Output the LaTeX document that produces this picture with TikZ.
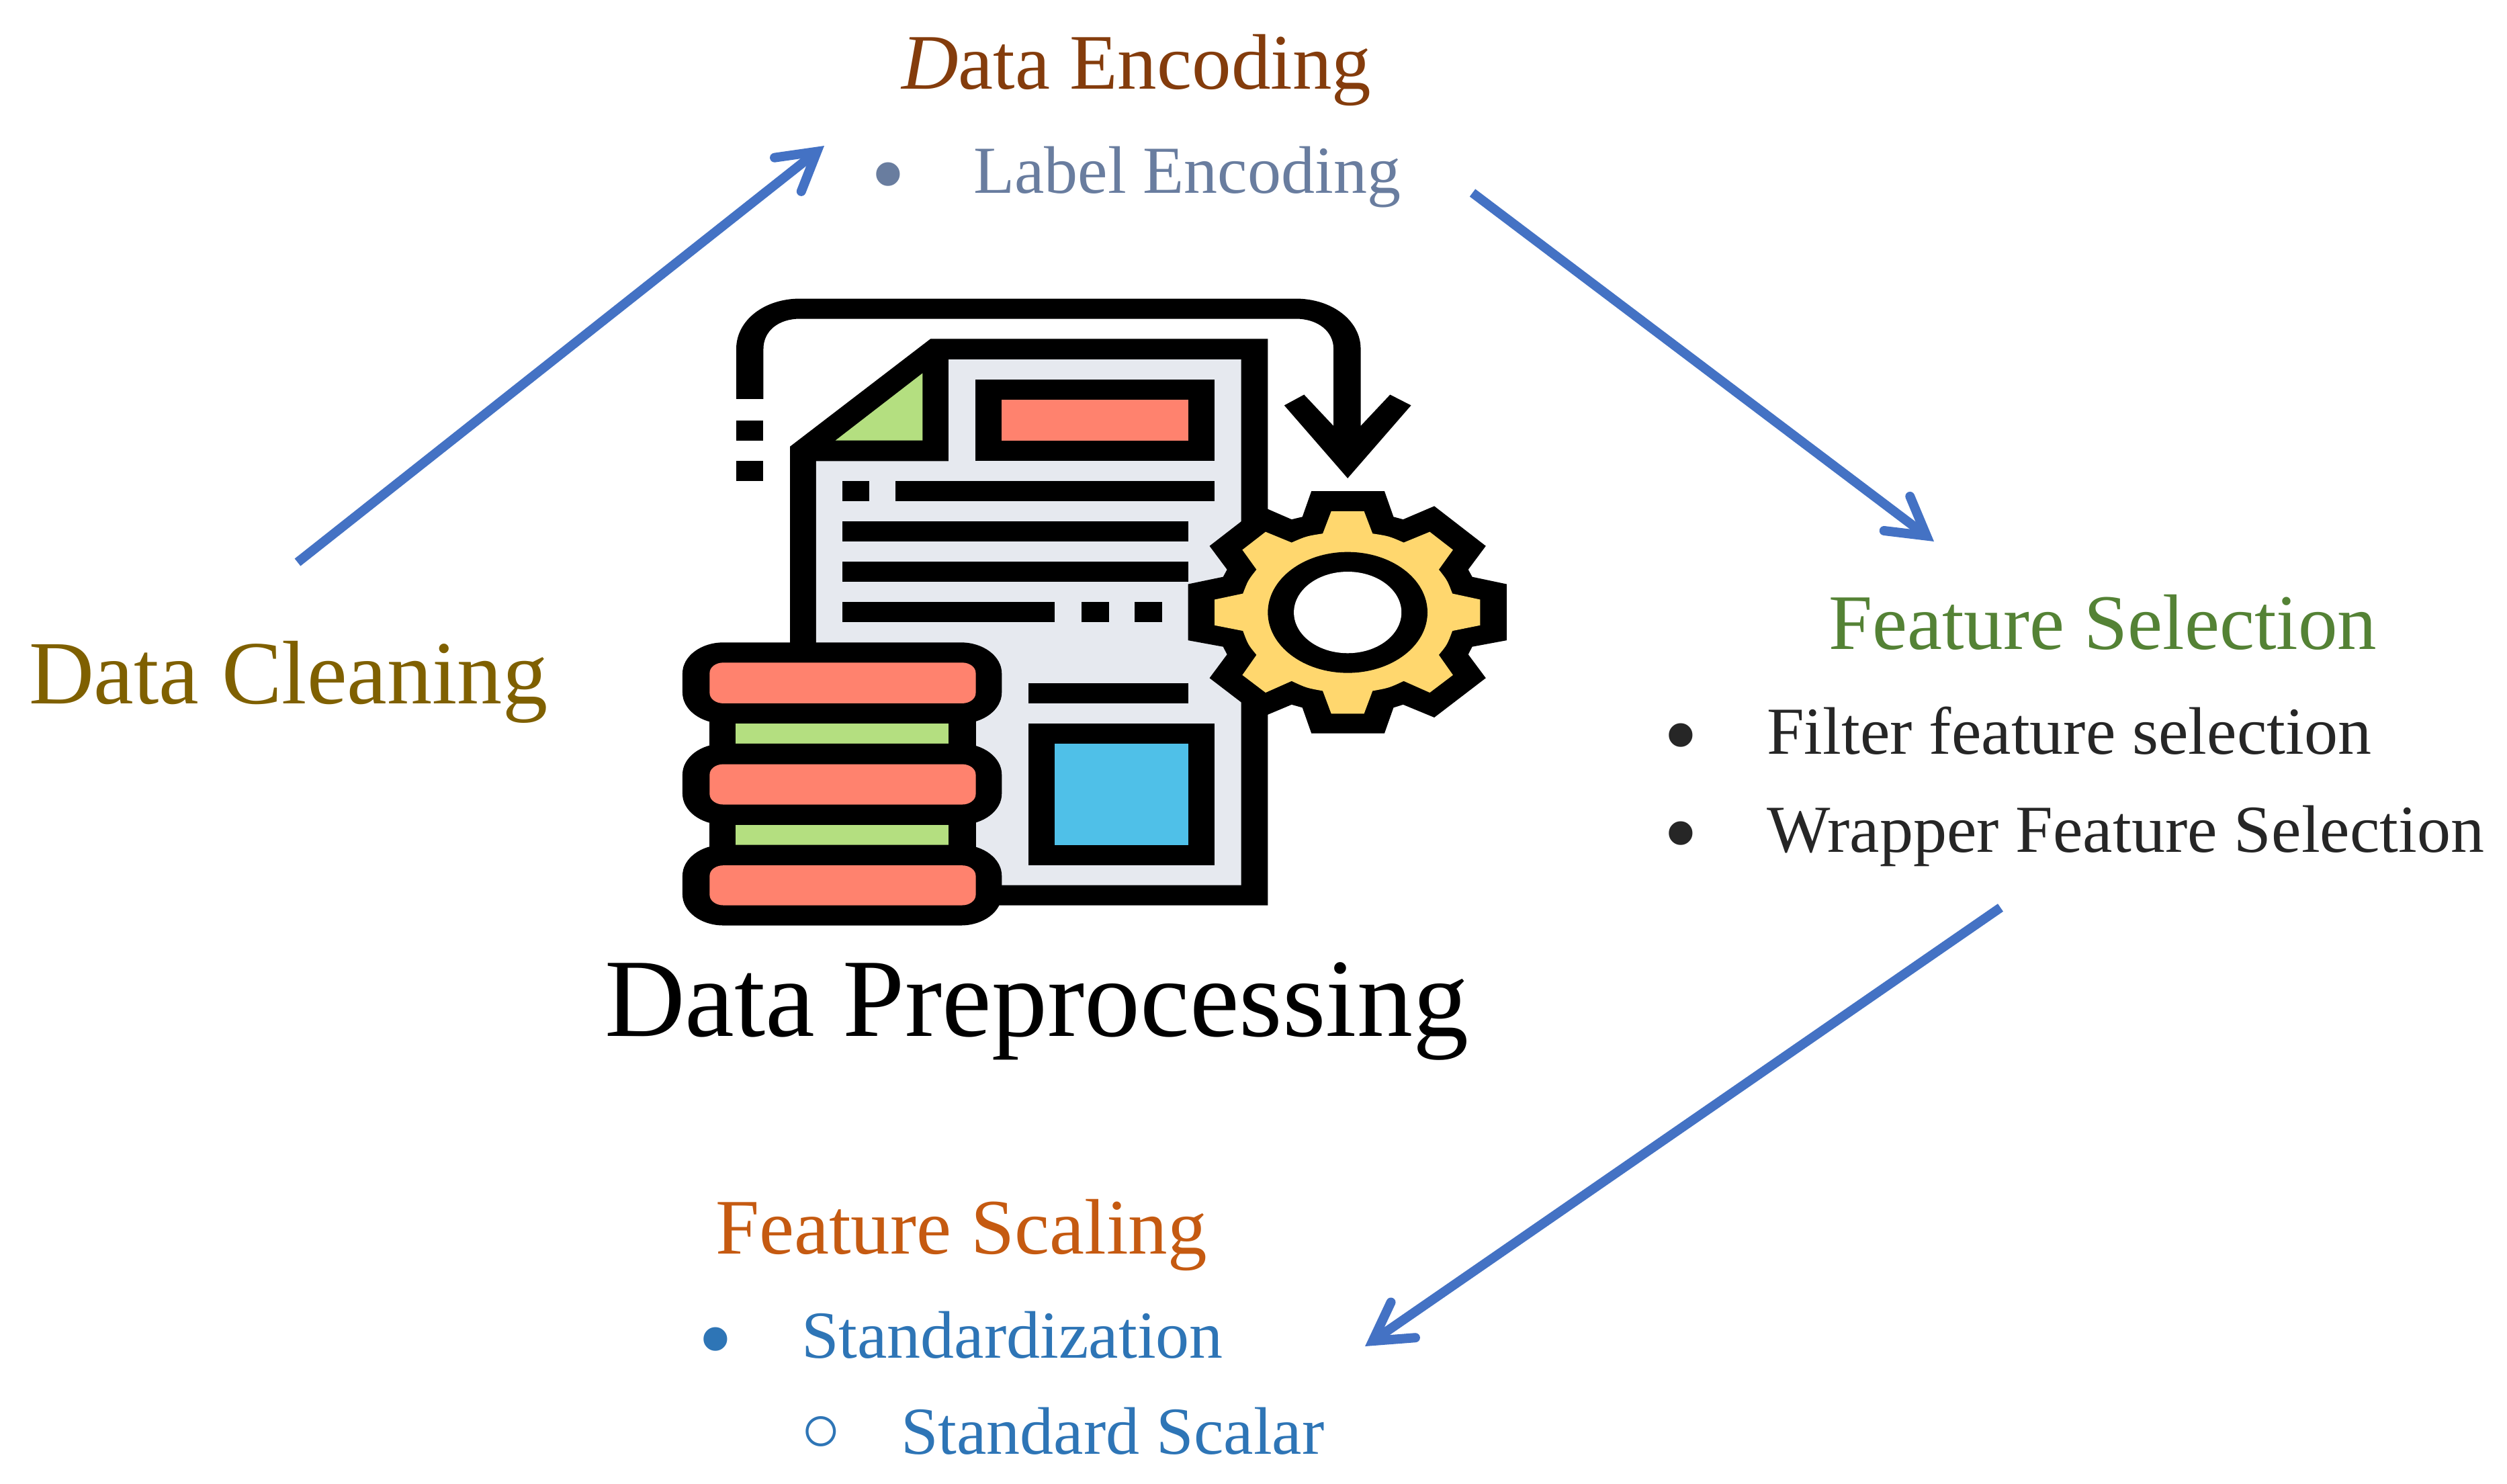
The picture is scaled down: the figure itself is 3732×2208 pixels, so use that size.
\documentclass[tikz,border=0pt]{standalone}
\usepackage{fontspec}
\setmainfont{Liberation Serif}
\usetikzlibrary{arrows.meta}

\definecolor{arrowblue}{HTML}{4472C4}
\definecolor{gold}{HTML}{7F6000}
\definecolor{rust}{HTML}{843C0C}
\definecolor{slate}{HTML}{697D9F}
\definecolor{leaf}{HTML}{548235}
\definecolor{ink}{HTML}{262626}
\definecolor{amber}{HTML}{C55A11}
\definecolor{steel}{HTML}{2E75B6}
\definecolor{paper}{HTML}{E6E9EF}
\definecolor{salmon}{HTML}{FF826E}
\definecolor{lime}{HTML}{B4DF80}
\definecolor{sky}{HTML}{4FC0E8}
\definecolor{sun}{HTML}{FFD76E}

% rounded box in icon units: style, x1, y1, x2, y2, corner
\newcommand{\roundbox}[6]{
  \fill[#1] ({#2+#6},#3) -- ({#4-#6},#3)
    .. controls ({#4-.45*#6},#3) and (#4,{#3+.45*#6}) .. (#4,{#3+#6})
    -- (#4,{#5-#6})
    .. controls (#4,{#5-.45*#6}) and ({#4-.45*#6},#5) .. ({#4-#6},#5)
    -- ({#2+#6},#5)
    .. controls ({#2+.45*#6},#5) and (#2,{#5-.45*#6}) .. (#2,{#5-#6})
    -- (#2,{#3+#6})
    .. controls (#2,{#3+.45*#6}) and ({#2+.45*#6},#3) .. ({#2+#6},#3) -- cycle;
}

\tikzset{
  txt/.style={inner sep=0,outer sep=0,anchor=base west},
  big/.style={txt,font=\fontsize{38.2}{44}\selectfont},
  huge/.style={txt,font=\fontsize{47.2}{54}\selectfont},
  head/.style={txt,font=\fontsize{33.3}{40}\selectfont},
  body/.style={txt,font=\fontsize{28.45}{34}\selectfont},
  dot/.style={inner sep=0,outer sep=0,anchor=base,font=\fontsize{42}{46}\selectfont},
  ring/.style={inner sep=0,outer sep=0,anchor=base,font=\fontsize{29}{32}\selectfont},
  flow/.style={draw=arrowblue,line width=14*0.01cm,
    -{Straight Barb[length=5.5mm,width=6.4mm,line cap=round,line join=miter]}}
}

\begin{document}
\begin{tikzpicture}[x=0.01cm,y=-0.01cm]
\useasboundingbox (0,0) rectangle (3732,2208);

% the icon, in its own grid
\begin{scope}[xshift=9.8cm,yshift=-4.2cm,x=0.008418cm,y=-0.006378cm]
  % sheet
  \fill[black] (232,383) -- (480,132) -- (1076,132) -- (1076,1453) -- (232,1453) -- cycle;
  \fill[paper] (278,417) -- (512,417) -- (512,180) -- (1029,180) -- (1029,1406) -- (278,1406) -- cycle;
  \fill[lime] (312,369) -- (466,369) -- (466,212) -- cycle;
  % heading box
  \fill[black] (559,227) rectangle (982,417);
  \fill[salmon] (606,274) rectangle (935,369);
  % text lines
  \fill[black] (324,464) rectangle (372,511);
  \fill[black] (418,464) rectangle (982,511);
  \fill[black] (324,558) rectangle (935,605);
  \fill[black] (324,652) rectangle (935,699);
  \fill[black] (324,746) rectangle (700,793);
  \fill[black] (747,746) rectangle (795,793);
  \fill[black] (841,746) rectangle (889,793);
  \fill[black] (653,935) rectangle (935,982);
  % picture box
  \fill[black] (653,1029) rectangle (982,1359);
  \fill[sky] (700,1076) rectangle (935,1312);
  % gear
  \fill[black] (1153,487) -- (1282,487) -- (1298,547) -- (1315,553) -- (1370,522)
    -- (1461,615) -- (1430,670) -- (1437,687) -- (1498,704) -- (1498,835)
    -- (1437,850) -- (1430,868) -- (1461,923) -- (1370,1015) -- (1315,985)
    -- (1298,992) -- (1282,1052) -- (1153,1052) -- (1137,992) -- (1118,985)
    -- (1064,1015) -- (973,923) -- (1004,868) -- (997,850) -- (935,835)
    -- (935,704) -- (997,687) -- (1004,670) -- (973,615) -- (1064,522)
    -- (1118,553) -- (1137,547) -- cycle;
  \fill[sun] (1188,534) -- (1246,534) -- (1261,586) .. controls (1290,592) .. (1316,607)
    -- (1362,582) -- (1403,624) -- (1378,670) .. controls (1393,695) .. (1402,726)
    -- (1451,740) -- (1451,800) -- (1402,813) .. controls (1393,845) .. (1378,869)
    -- (1403,916) -- (1362,957) -- (1316,930) .. controls (1290,946) .. (1261,953)
    -- (1246,1006) -- (1188,1006) -- (1173,953) .. controls (1144,946) .. (1118,930)
    -- (1072,957) -- (1031,916) -- (1056,869) .. controls (1041,845) .. (1032,813)
    -- (982,800) -- (982,740) -- (1032,726) .. controls (1041,695) .. (1056,670)
    -- (1031,624) -- (1072,582) -- (1118,607) .. controls (1144,592) .. (1173,586) -- cycle;
  \fill[black] (1217,770) circle [radius=141];
  \fill[white] (1217,770) circle [radius=95];
  % stack of disks
  \fill[black] (90,1000) rectangle (560,1340);
  \fill[lime] (136,1029) rectangle (512,1076);
  \fill[lime] (136,1265) rectangle (512,1312);
  \roundbox{black}{42}{840}{606}{1029}{72}
  \roundbox{black}{42}{1076}{606}{1265}{72}
  \roundbox{black}{42}{1312}{606}{1500}{72}
  \roundbox{salmon}{90}{887}{560}{982}{24}
  \roundbox{salmon}{90}{1124}{560}{1218}{24}
  \roundbox{salmon}{90}{1360}{560}{1453}{24}
  % loop arrow
  \fill[black] (137,272) -- (137,155) .. controls (137,90) and (185,38) .. (250,38)
    -- (1125,38) .. controls (1190,38) and (1240,90) .. (1240,155)
    -- (1240,335) -- (1292,262) -- (1329,287) -- (1217,457) -- (1105,287) -- (1140,262)
    -- (1192,335) -- (1192,155) .. controls (1192,115) and (1165,85) .. (1125,85)
    -- (250,85) .. controls (210,85) and (185,115) .. (185,155) -- (185,272) -- cycle;
  \fill[black] (137,322) rectangle (185,369);
  \fill[black] (137,416) rectangle (185,464);
\end{scope}

% labels
\node[big,text=gold] (clean) at (43,1047) {Data Cleaning};
\node[huge,text=black] (prep) at (900,1542) {Data Preprocessing};

\node[head,text=rust] (enc) at (1342,132) {\textit{D}ata Encoding};
\node[dot,text=slate] (encdot) at (1322,308) {•};
\node[body,text=slate] (label) at (1449,287) {Label Encoding};

\node[head,text=leaf] (sel) at (2722,966) {Feature Selection};
\node[dot,text=ink] (fdot) at (2502,1143) {•};
\node[body,text=ink] (filter) at (2630,1122) {Filter feature selection};
\node[dot,text=ink] (wdot) at (2502,1289) {•};
\node[body,text=ink] (wrap) at (2630,1268) {Wrapper Feature Selection};

\node[head,text=amber] (scale) at (1065,1866) {Feature Scaling};
\node[dot,text=steel] (sdot) at (1065,2042) {•};
\node[body,text=steel] (std) at (1193,2021) {Standardization};
\node[ring,text=steel] (ssub) at (1222,2161) {○};
\node[body,text=steel] (scalar) at (1341,2164) {Standard Scalar};

% arrows between the steps
\coordinate (a1) at (443,837);
\coordinate (a2) at (1227,217);
\coordinate (b1) at (2192,287);
\coordinate (b2) at (2879,806);
\coordinate (c1) at (2978,1351);
\coordinate (c2) at (2032,2004);
\draw[flow] (a1) -- (a2);
\draw[flow] (b1) -- (b2);
\draw[flow] (c1) -- (c2);
\end{tikzpicture}
\end{document}
